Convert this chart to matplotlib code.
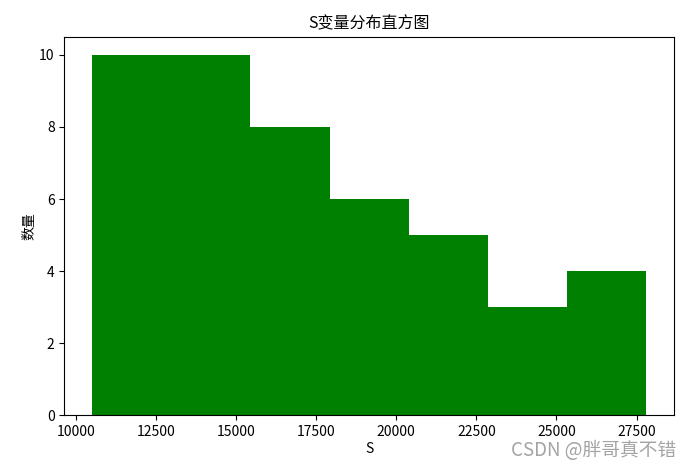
import numpy as np
import matplotlib
matplotlib.use('Agg')
import matplotlib.pyplot as plt

plt.rcParams['font.family'] = ['Noto Sans CJK SC', 'DejaVu Sans']
plt.rcParams['axes.unicode_minus'] = False

# --- data (7 equal bins) ---
bin_edges = [10511, 12981, 15451, 17921, 20391, 22861, 25331, 27802]
counts = [10, 10, 8, 6, 5, 3, 4]

centers = [(a + b) / 2 for a, b in zip(bin_edges[:-1], bin_edges[1:])]

fig = plt.figure(figsize=(6.92, 4.61), dpi=100)
ax = fig.add_axes([0.093, 0.099, 0.881, 0.821])

ax.hist(centers, bins=bin_edges, weights=counts, color='green')
ax.set_title('S变量分布直方图', fontsize=11.5)
ax.set_xlabel('S', fontsize=10, labelpad=2)
ax.set_ylabel('数量', fontsize=10, labelpad=2)
ax.tick_params(labelsize=10)

# watermark, nudged just below the tick labels
fig.text(0.977, 0.0, 'CSDN @胖哥真不错', ha='right', va='bottom',
         fontsize=13.5, color='#9a9a9a', alpha=0.9)

fig.savefig('out.png', dpi=100)
